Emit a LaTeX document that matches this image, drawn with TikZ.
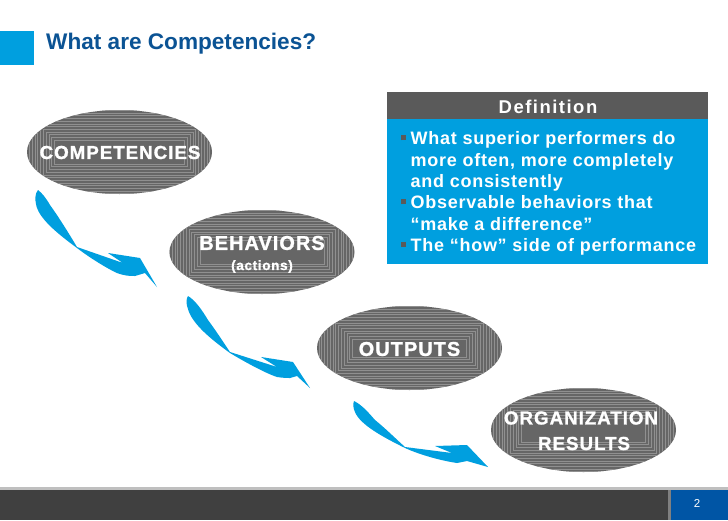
\documentclass[tikz,border=0pt]{standalone}
\usepackage{fontspec}
\usetikzlibrary{shapes.geometric}
\setmainfont{Liberation Sans}
\newfontfamily\ovalfont[LetterSpace=5,BoldFeatures={FakeBold=1.2}]{Liberation Sans}
\newfontfamily\boxfont[LetterSpace=4]{Liberation Sans}
\newfontfamily\headfont[LetterSpace=8]{Liberation Sans}
\definecolor{skyblue}{HTML}{009FDF}
\definecolor{titleblue}{HTML}{0B5394}
\definecolor{footblue}{HTML}{0055A5}
\definecolor{footdark}{HTML}{404040}
\definecolor{headgray}{HTML}{5A5A5A}
\definecolor{ovalgray}{HTML}{666666}
\definecolor{ringgray}{HTML}{909090}
\begin{document}
\begin{tikzpicture}[x=1pt,y=-1pt,
  oval/.style 2 args={ellipse,inner sep=0pt,minimum width=185pt,minimum height=84pt,fill=ovalgray,
    path picture={
      \foreach \i in {0,...,18}{
        \draw[ringgray,line width=0.45pt]
          ([xshift={-(#1+\i*2.8)*1pt},yshift={-(#2+\i*2.7)*1pt}]path picture bounding box.center)
          rectangle
          ([xshift={(#1+\i*2.8)*1pt},yshift={(#2+\i*2.7)*1pt}]path picture bounding box.center);
      }
    }},
  ovaltext/.style={text=white,font=\ovalfont\bfseries\fontsize{18.8}{20}\selectfont,inner sep=0pt},
  ovaltextb/.style={text=white,font=\ovalfont\bfseries\fontsize{20}{22}\selectfont,inner sep=0pt},
  swoosh/.style={fill=skyblue,draw=none}
]
\useasboundingbox (0,0) rectangle (728,520);
\fill[white] (0,0) rectangle (728,520);

% header
\fill[skyblue] (0,31) rectangle (34,65);
\node[anchor=base west,inner sep=0pt,text=titleblue,font=\bfseries\fontsize{22.6}{26}\selectfont] (title) at (46,49) {What are Competencies?};

% ovals
\node[oval={65}{12}] (comp) at (119.5,152) {};
\node[oval={62}{12}] (beh) at (262,252) {};
\node[oval={57}{9}] (out) at (409.5,348) {};
\node[oval={62}{12}] (org) at (583.5,430) {};

\node[ovaltext] (compt) at (120,152.5) {COMPETENCIES};
\node[ovaltextb] (beht) at (262,243) {BEHAVIORS};
\node[ovaltext,font=\ovalfont\bfseries\fontsize{13.5}{15}\selectfont] (acts) at (262,266.5) {(actions)};
\node[ovaltextb] (outt) at (409.5,349) {OUTPUTS};
\node[ovaltext] (orgt) at (581,418) {ORGANIZATION};
\node[ovaltext] (rest) at (584,443.5) {RESULTS};

% swooshes
\fill[swoosh] (38,190) .. controls (35,193) and (35,200) .. (36,204)
  .. controls (38,218) and (58,234) .. (77,248)
  .. controls (90,258) and (108,269) .. (117,273)
  .. controls (125,276) and (130,276) .. (135,276)
  -- (145,273) -- (157,287) -- (140,258) -- (108,253) -- (123,263)
  -- (77,247) .. controls (68,232) and (58,216) .. (50,205)
  .. controls (46,198) and (42,193) .. cycle;
\fill[swoosh] (188,296) .. controls (186,299) and (186,304) .. (188,309)
  .. controls (192,324) and (212,340) .. (230,353)
  .. controls (245,362) and (265,373) .. (277,377)
  .. controls (283,378) and (288,378) .. (290,378)
  -- (297,376) -- (310,388) -- (293,362) -- (261,357) -- (277,367)
  -- (230,352) .. controls (222,340) and (214,328) .. (208,320)
  .. controls (202,310) and (195,300) .. cycle;
\fill[swoosh] (354,401) .. controls (353,404) and (353,408) .. (355,412)
  .. controls (360,425) and (385,438) .. (403,447)
  .. controls (415,453) and (437,460) .. (457,463)
  -- (467,461) -- (488,467) -- (467,445) -- (435,446) -- (452,453)
  -- (405,447) .. controls (395,438) and (385,428) .. (375,420)
  .. controls (368,412) and (362,405) .. cycle;

% definition box
\fill[skyblue] (387,92) rectangle (708,264);
\node[fill=headgray,minimum width=321pt,minimum height=27pt,inner sep=0pt,anchor=north west] (defhead) at (387,92) {};
\node[text=white,font=\headfont\bfseries\fontsize{18.5}{20}\selectfont,inner sep=0pt] (deft) at (548,107) {Definition};
\node[anchor=north west,inner sep=0pt,text=white,align=left,
  font=\boxfont\bfseries\fontsize{18}{21.4}\selectfont] (defbody) at (410.5,131.5)
 {\llap{\textcolor{headgray}{\rule[4.5pt]{5pt}{5pt}}\hspace{5pt}}What superior performers do\\
  more often, more completely\\
  and consistently\\
  \llap{\textcolor{headgray}{\rule[4.5pt]{5pt}{5pt}}\hspace{5pt}}Observable behaviors that\\
  “make a difference”\\
  \llap{\textcolor{headgray}{\rule[4.5pt]{5pt}{5pt}}\hspace{5pt}}The “how” side of performance};

% footer
\fill[footdark] (0,488) rectangle (728,520);
\fill[black!25] (0,487) rectangle (728,490);
\fill[black!50] (668,490) rectangle (671,520);
\fill[footblue] (671,490) rectangle (728,520);
\node[text=white,font=\fontsize{11.5}{13}\selectfont,inner sep=0pt] (pageno) at (697,503) {2};
\end{tikzpicture}
\end{document}
